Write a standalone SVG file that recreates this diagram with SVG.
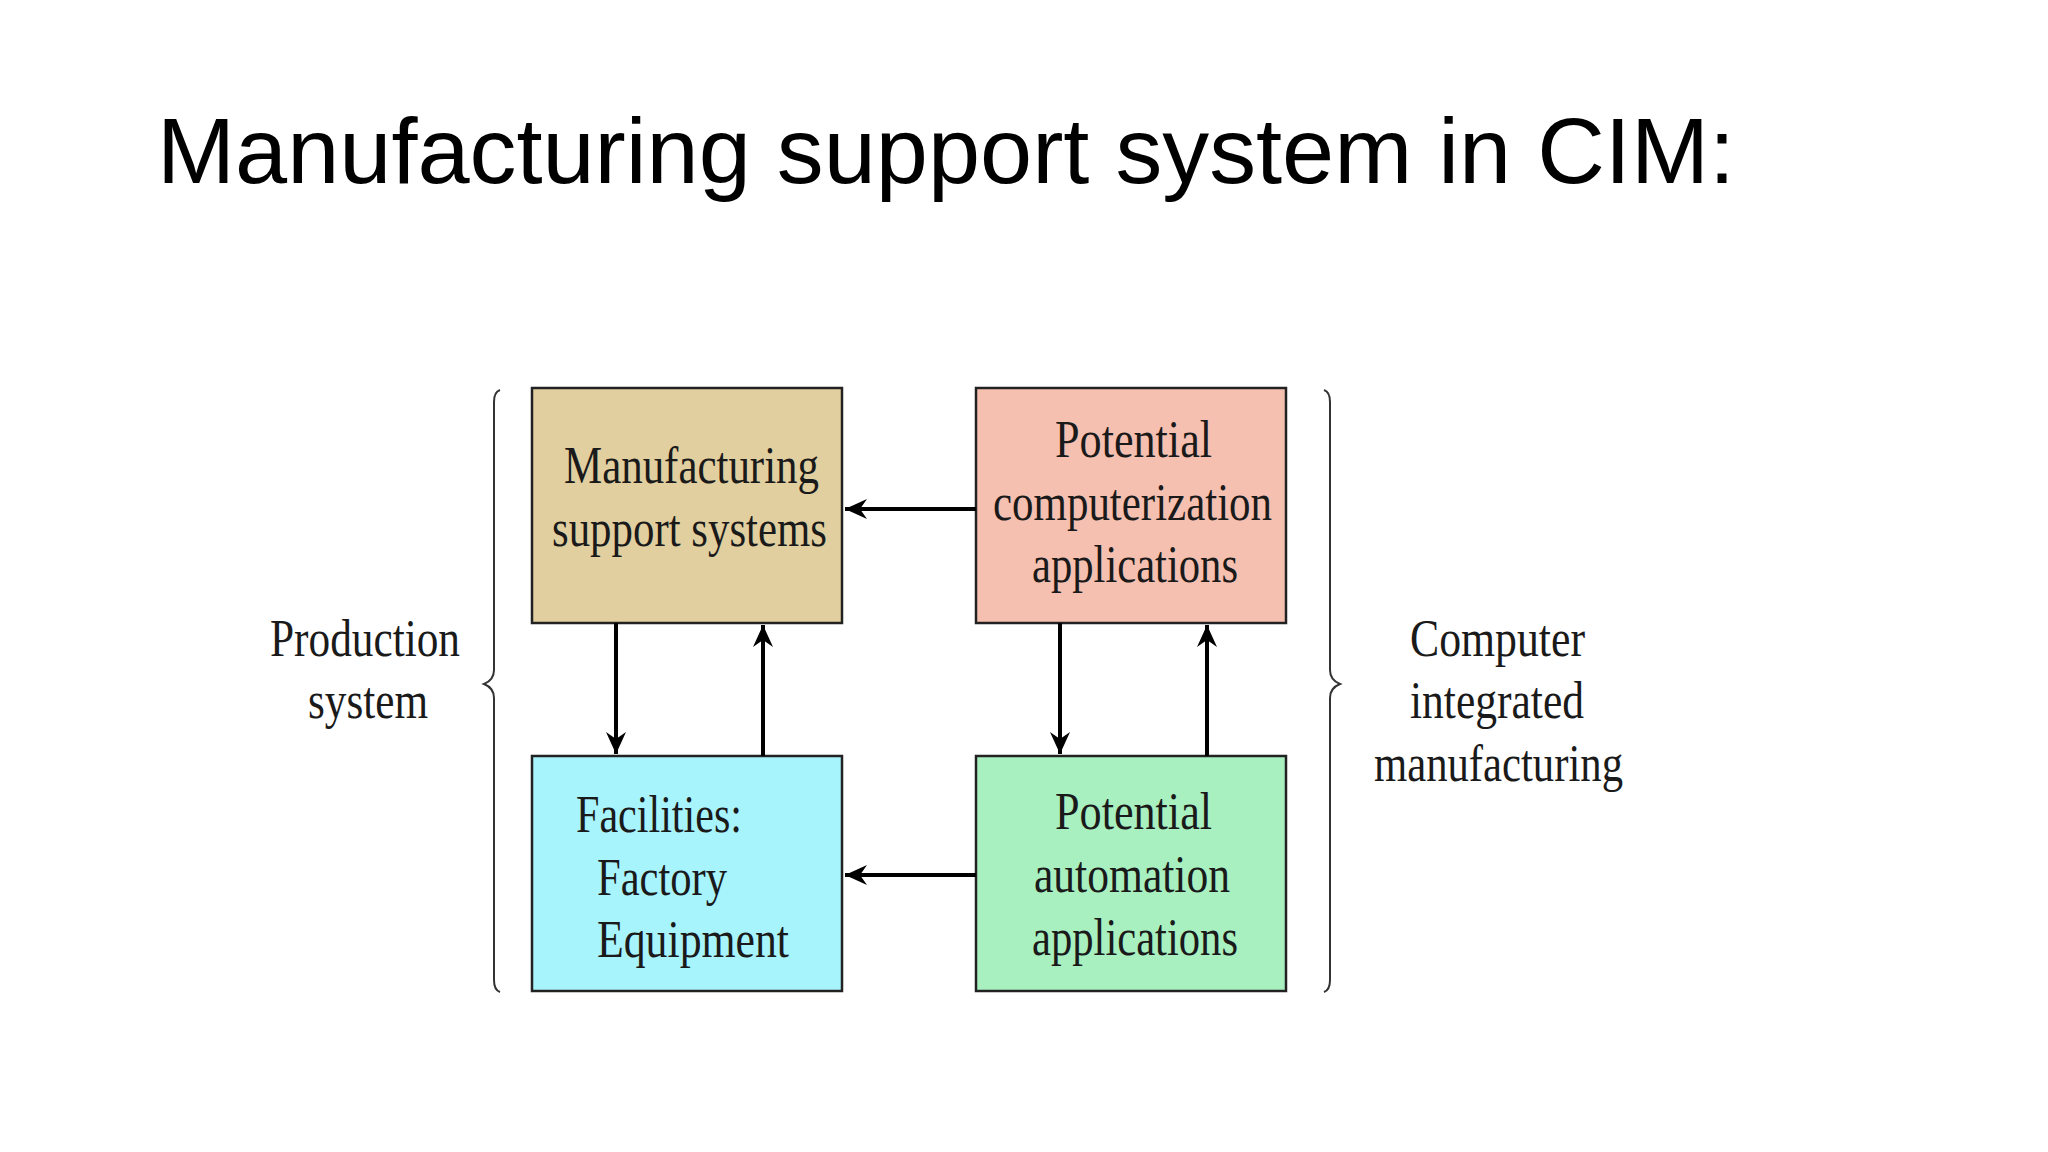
<svg xmlns="http://www.w3.org/2000/svg" width="2048" height="1152" viewBox="0 0 2048 1152">
<style>
.t{font-family:"Liberation Serif",serif;font-size:52px;fill:#1a1a1a}
.b{stroke:#222;stroke-width:2.5}
.c{stroke:#000;stroke-width:4;fill:none;marker-end:url(#ah)}
.br{stroke:#333;stroke-width:2;fill:none}
</style>
<defs><marker id="ah" viewBox="-24 -12 26 24" refX="0" refY="0" markerWidth="26" markerHeight="24" orient="auto" markerUnits="userSpaceOnUse"><path d="M-22,-10 L0,0 L-22,10 L-15,0 Z" fill="#000"/></marker></defs>
<rect width="2048" height="1152" fill="#fff"/>
<text x="157" y="183" font-family="Liberation Sans,Arial,sans-serif" font-size="92" textLength="1578" lengthAdjust="spacingAndGlyphs">Manufacturing support system in CIM:</text>
<g id="mss"><rect class="b" x="532" y="388" width="310" height="235" fill="#e2cf9f"/>
<text class="t" x="564" y="483" textLength="255" lengthAdjust="spacingAndGlyphs">Manufacturing</text>
<text class="t" x="552" y="546" textLength="275" lengthAdjust="spacingAndGlyphs">support systems</text></g>
<g id="pca"><rect class="b" x="976" y="388" width="310" height="235" fill="#f6c0b0"/>
<text class="t" x="1055" y="457" textLength="157" lengthAdjust="spacingAndGlyphs">Potential</text>
<text class="t" x="993" y="520" textLength="279" lengthAdjust="spacingAndGlyphs">computerization</text>
<text class="t" x="1032" y="582" textLength="206" lengthAdjust="spacingAndGlyphs">applications</text></g>
<g id="fac"><rect class="b" x="532" y="756" width="310" height="235" fill="#a8f4fc"/>
<text class="t" x="576" y="832" textLength="166" lengthAdjust="spacingAndGlyphs">Facilities:</text>
<text class="t" x="597" y="895" textLength="130" lengthAdjust="spacingAndGlyphs">Factory</text>
<text class="t" x="597" y="957" textLength="192" lengthAdjust="spacingAndGlyphs">Equipment</text></g>
<g id="paa"><rect class="b" x="976" y="756" width="310" height="235" fill="#a8f0c0"/>
<text class="t" x="1055" y="829" textLength="157" lengthAdjust="spacingAndGlyphs">Potential</text>
<text class="t" x="1034" y="892" textLength="196" lengthAdjust="spacingAndGlyphs">automation</text>
<text class="t" x="1032" y="955" textLength="206" lengthAdjust="spacingAndGlyphs">applications</text></g>
<g id="prod"><text class="t" x="270" y="656" textLength="190" lengthAdjust="spacingAndGlyphs">Production</text>
<text class="t" x="308" y="718" textLength="120" lengthAdjust="spacingAndGlyphs">system</text>
<path class="br" d="M500,390 Q494,392 494,402 L494,670 Q494,680 484,684 Q494,688 494,698 L494,980 Q494,990 500,992"/></g>
<g id="cim"><text class="t" x="1410" y="656" textLength="175" lengthAdjust="spacingAndGlyphs">Computer</text>
<text class="t" x="1410" y="718" textLength="174" lengthAdjust="spacingAndGlyphs">integrated</text>
<text class="t" x="1374" y="781" textLength="249" lengthAdjust="spacingAndGlyphs">manufacturing</text>
<path class="br" d="M1324,390 Q1330,392 1330,402 L1330,670 Q1330,680 1340,684 Q1330,688 1330,698 L1330,980 Q1330,990 1324,992"/></g>
<g id="connectors">
<line class="c" x1="976" y1="509" x2="845" y2="509"/>
<line class="c" x1="976" y1="875" x2="845" y2="875"/>
<line class="c" x1="616" y1="623" x2="616" y2="754"/>
<line class="c" x1="763" y1="756" x2="763" y2="625"/>
<line class="c" x1="1060" y1="623" x2="1060" y2="754"/>
<line class="c" x1="1207" y1="756" x2="1207" y2="625"/>
</g>
</svg>
